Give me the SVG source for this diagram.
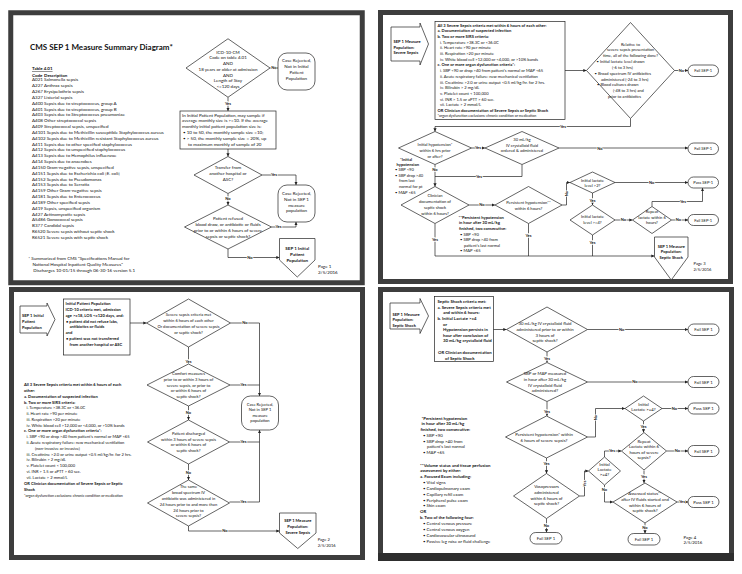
<svg xmlns="http://www.w3.org/2000/svg" width="742" height="574" viewBox="0 0 742 574">
<style>
text{font-family:Lato,"Liberation Sans",sans-serif;fill:#111}
.b{font-weight:bold}
.m{text-anchor:middle}
.p1{font-size:4.5px}
.p2{font-size:4.1px}
.p4{font-size:4.3px}
.lb{font-size:4px;font-weight:bold;text-anchor:middle;stroke:#fff;stroke-width:1.4px;paint-order:stroke}
.sh{fill:#fff;stroke:#222;stroke-width:.7}
.ln{fill:none;stroke:#222;stroke-width:.7;marker-end:url(#a)}
.l0{fill:none;stroke:#222;stroke-width:.7}
.fr{fill:#fff;stroke:#3d3d3d;stroke-width:5}
</style>
<defs>
<marker id="a" viewBox="0 0 6 6" refX="6" refY="3" markerWidth="3.2" markerHeight="3.2" markerUnits="userSpaceOnUse" orient="auto"><path d="M0,0L6,3L0,6z" fill="#222"/></marker>
</defs>
<rect width="742" height="574" fill="#fff"/>

<!-- ================= PAGE 1 ================= -->
<g id="page1">
<rect class="fr" x="10.75" y="12.75" width="351.5" height="270"/>
<text x="30" y="49.5" class="b" font-size="8">CMS SEP 1 Measure Summary Diagram*</text>
<g id="table401" class="p1" font-size="4.4">
<text x="32" y="70" class="b" text-decoration="underline">Table 4.01</text>
<text x="32" y="76.7" class="b">Code</text><text x="44" y="76.7" class="b">Description</text>
<text x="32" y="81.4">A021 Salmonella sepsis</text>
<text x="32" y="87.2">A227 Anthrax sepsis</text>
<text x="32" y="93.1">A267 Erysipelothrix sepsis</text>
<text x="32" y="98.9">A327 Listerial sepsis</text>
<text x="32" y="104.7">A400 Sepsis due to streptococcus, group A</text>
<text x="32" y="110.6">A401 Sepsis due to streptococcus, group B</text>
<text x="32" y="116.4">A403 Sepsis due to Streptococcus pneumoniae</text>
<text x="32" y="122.2">A408 Other streptococcal sepsis</text>
<text x="32" y="128">A409 Streptococcal sepsis, unspecified</text>
<text x="32" y="133.9">A4101 Sepsis due to Methicillin susceptible Staphylococcus aureus</text>
<text x="32" y="139.7">A4102 Sepsis due to Methicillin resistant Staphylococcus aureus</text>
<text x="32" y="145.5">A411 Sepsis due to other specified staphylococcus</text>
<text x="32" y="151.4">A412 Sepsis due to unspecified staphylococcus</text>
<text x="32" y="157.2">A413 Sepsis due to Hemophilus influenzae</text>
<text x="32" y="163">A414 Sepsis due to anaerobes</text>
<text x="32" y="168.9">A4150 Gram-negative sepsis, unspecified</text>
<text x="32" y="174.7">A4151 Sepsis due to Escherichia coli [E. coli]</text>
<text x="32" y="180.5">A4152 Sepsis due to Pseudomonas</text>
<text x="32" y="186.3">A4153 Sepsis due to Serratia</text>
<text x="32" y="192.2">A4159 Other Gram-negative sepsis</text>
<text x="32" y="198">A4181 Sepsis due to Enterococcus</text>
<text x="32" y="203.8">A4189 Other specified sepsis</text>
<text x="32" y="209.7">A419 Sepsis, unspecified organism</text>
<text x="32" y="215.5">A427 Actinomycotic sepsis</text>
<text x="32" y="221.3">A5486 Gonococcal sepsis</text>
<text x="32" y="227.2">B377 Candidal sepsis</text>
<text x="32" y="233">R6520 Severe sepsis without septic shock</text>
<text x="32" y="238.8">R6521 Severe sepsis with septic shock</text>
</g>
<g id="footnote1" class="p1" font-size="4.4">
<text x="28.3" y="260">* Summarized from CMS "Specifications Manual for</text>
<text x="32.5" y="266">National Hospital Inpatient Quality Measures"</text>
<text x="33.3" y="271.6">Discharges 10-01/15 through 06-30-16 version 5.1</text>
</g>
<g id="p1-connectors">
<path class="ln" d="M270,68H278"/>
<path class="ln" d="M228,97.25V111"/>
<path class="ln" d="M228,149V156.5"/>
<path class="ln" d="M262,175H296V185"/>
<path class="ln" d="M228,193.5V205"/>
<path class="ln" d="M271.5,227H296V222"/>
<path class="ln" d="M228,249V257.5H279.5"/>
<text class="lb" x="274" y="69.4">No</text>
<text class="lb" x="228" y="105">Yes</text>
<text class="lb" x="274" y="176.4">Yes</text>
<text class="lb" x="228" y="200">No</text>
<text class="lb" x="278.5" y="228.4">Yes</text>
<text class="lb" x="250" y="259">No</text>
</g>
<g id="p1-d-icd" class="p1 m">
<polygon class="sh" points="228,38.75 270,68 228,97.25 186,68"/>
<text x="228" y="53.6">ICD-10-CM</text>
<text x="228" y="59.35">Code on table 4.01</text>
<text x="228" y="65.1">AND</text>
<text x="228" y="70.85">18 years or older at admission</text>
<text x="228" y="76.6">AND</text>
<text x="228" y="82.35">Length of Stay</text>
<text x="228" y="88.1">&lt;=120 days</text>
</g>
<g id="p1-rej1" class="p1 m">
<rect class="sh" x="278" y="53" width="37" height="37" rx="9"/>
<text x="296.5" y="62.3">Case Rejected,</text>
<text x="296.5" y="68.3">Not in Initial</text>
<text x="296.5" y="74.3">Patient</text>
<text x="296.5" y="80">Population</text>
</g>
<g id="p1-sample" class="p1" font-size="4.4">
<rect class="sh" x="180" y="111" width="96" height="38"/>
<text x="182" y="116.5">In Initial Patient Population, may sample if</text>
<text x="182" y="122.3">average monthly size is &gt;=10. If the average</text>
<text x="182" y="128.1">monthly initial patient population size is:</text>
<text x="183" y="133.9">• 10 to 50, the monthly sample size =10;</text>
<text x="183" y="139.7">• &gt; 50, the monthly sample size = 20%, up</text>
<text x="188" y="145.5">to maximum monthly of sample of 20</text>
</g>
<g id="p1-d-transfer" class="p1 m">
<polygon class="sh" points="228,156.5 262,175 228,193.5 194,175"/>
<text x="228" y="169">Transfer from</text>
<text x="228" y="175">another hospital or</text>
<text x="228" y="181">ASC?</text>
</g>
<g id="p1-rej2" class="p1 m">
<rect class="sh" x="278" y="185" width="37" height="37" rx="9"/>
<text x="296.5" y="195">Case Rejected,</text>
<text x="296.5" y="201">Not in SEP 1</text>
<text x="296.5" y="206.6">measure</text>
<text x="296.5" y="212.3">population</text>
</g>
<g id="p1-d-refused" class="p1 m">
<polygon class="sh" points="228,205 271.5,227 228,249 184.5,227"/>
<text x="228" y="220">Patient refused</text>
<text x="228" y="226">blood draw, or antibiotic or fluids</text>
<text x="228" y="232">prior to or within 6 hours of severe</text>
<text x="228" y="238">sepsis or septic shock?</text>
</g>
<g id="p1-off" class="p1 m b">
<polygon class="sh" points="279.5,238.5 315,238.5 315,260 297.25,277 279.5,260"/>
<text x="297.25" y="250">SEP 1 Initial</text>
<text x="297.25" y="255.7">Patient</text>
<text x="297.25" y="261.5">Population</text>
</g>
<text x="318" y="268.3" class="p1">Page 1</text>
<text x="318" y="274.3" class="p1">2/5/2016</text>
</g>

<!-- ================= PAGE 2 ================= -->
<g id="page2">
<rect class="fr" x="11.5" y="289.5" width="351" height="268"/>
<g id="p2-in" class="p2 b">
<path class="sh" d="M20,306H47V303L55,319.5L47,336V333H20Z"/>
<text x="22" y="316.6">SEP 1 Initial</text>
<text x="22" y="322.6">Patient</text>
<text x="22" y="328.6">Population</text>
</g>
<g id="p2-ipp" class="p2 b">
<rect class="sh" x="63.5" y="299" width="66.5" height="56"/>
<text x="65.5" y="305">Initial Patient Population</text>
<text x="65.5" y="310.7">ICD-10 criteria met, admission</text>
<text x="65.5" y="316.6">age &gt;=18,  LOS &lt;=120 days, and:</text>
<text x="66" y="322.6">• patient did not refuse labs,</text>
<text x="69.5" y="328.3">antibiotics or fluids</text>
<text x="65.5" y="334.3">and</text>
<text x="66" y="340">• patient was not transferred</text>
<text x="69.5" y="346">from another hospital or ASC</text>
</g>
<g id="p2-criteria" class="p2">
<text x="24" y="385.8" class="b">All 3 Severe Sepsis criteria met within 6 hours of each</text>
<text x="24" y="391.5" class="b">other:</text>
<text x="24" y="397.5" class="b">a. Documentation of suspected infection</text>
<text x="24" y="403.5" class="b">b. Two or more SIRS criteria:</text>
<text x="26.5" y="408.8">i.  Temperature &gt;38.3C or &lt;36.0C</text>
<text x="26.5" y="414.5">ii. Heart rate &gt;90 per minute</text>
<text x="26.5" y="420.5">iii. Respiration &gt;20 per minute</text>
<text x="26.5" y="426.5">iv. White blood cell &gt;12,000 or &lt;4,000, or &gt;10% bands</text>
<text x="24" y="432.2" class="b">c. One or more organ dysfunction criteria*:</text>
<text x="26.5" y="438.2">i. SBP &lt;90 or drop &gt;40 from patient's normal or MAP &lt;65</text>
<text x="26.5" y="444.2">ii. Acute respiratory failure: new mechanical ventilation</text>
<text x="35" y="449.8">(non-invasive or invasive)</text>
<text x="26.5" y="455.5">iii. Creatinine &gt;2.0 or urine output &lt;0.5 ml/kg/hr. for 2 hrs.</text>
<text x="26.5" y="461.2">iv. Bilirubin &gt; 2 mg/dL</text>
<text x="26.5" y="467.2">v. Platelet count &lt; 100,000</text>
<text x="26.5" y="473.2">vi. INR &gt; 1.5 or aPTT &gt; 60 sec.</text>
<text x="26.5" y="479.2">vii. Lactate &gt; 2 mmol/L</text>
<text x="24" y="484.8" class="b">OR Clinician documentation of Severe Sepsis or Septic</text>
<text x="24" y="490.5" class="b">Shock</text>
<text x="24" y="496.5" font-size="3.6">*organ dysfunction exclusions: chronic condition or medication</text>
</g>
<g id="p2-connectors">
<path class="ln" d="M130,323H146.5"/>
<path class="ln" d="M230.5,323H259.5V396"/>
<path class="ln" d="M188.5,347V364"/>
<path class="l0" d="M230,385H259.5"/>
<path class="ln" d="M188.5,406V420"/>
<path class="l0" d="M229.5,442H259.5"/>
<path class="ln" d="M188.5,464V480"/>
<path class="ln" d="M229.5,502H259.5V430"/>
<path class="ln" d="M188.5,526V531H279.5"/>
<text class="lb" x="245" y="324.4">No</text>
<text class="lb" x="188.5" y="362.8">Yes</text>
<text class="lb" x="243.5" y="386.4">Yes</text>
<text class="lb" x="188.5" y="414.3">No</text>
<text class="lb" x="243.5" y="443.4">Yes</text>
<text class="lb" x="188.5" y="474.3">No</text>
<text class="lb" x="243.5" y="503.4">Yes</text>
<text class="lb" x="225" y="532.4">No</text>
</g>
<g id="p2-d-criteria" class="p2 m">
<polygon class="sh" points="188.5,299 230.5,323 188.5,347 146.5,323"/>
<text x="188.5" y="315.6">Severe sepsis criteria met</text>
<text x="188.5" y="321.6">within 6 hours of each other</text>
<text x="188.5" y="327.6">Or documentation of severe sepsis</text>
<text x="188.5" y="333.6">or septic shock?</text>
</g>
<g id="p2-rej" class="p2 m">
<rect class="sh" x="241.5" y="396" width="37" height="34" rx="9"/>
<text x="260" y="405.6">Case Rejected,</text>
<text x="260" y="411.2">Not in SEP 1</text>
<text x="260" y="416.8">measure</text>
<text x="260" y="422.4">population</text>
</g>
<g id="p2-d-comfort" class="p2 m">
<polygon class="sh" points="188.5,364 230,385 188.5,406 147,385"/>
<text x="188.5" y="375">Comfort measures</text>
<text x="188.5" y="380.8">prior to or within 3 hours of</text>
<text x="188.5" y="386.6">severe sepsis, or prior to</text>
<text x="188.5" y="392.3">or within 6 hours of</text>
<text x="188.5" y="398">septic shock?</text>
</g>
<g id="p2-d-discharged" class="p2 m">
<polygon class="sh" points="188.5,420 229.5,442 188.5,464 147.5,442"/>
<text x="188.5" y="435">Patient discharged</text>
<text x="188.5" y="440.7">within 3 hours of severe sepsis</text>
<text x="188.5" y="446.4">or within 6 hours of</text>
<text x="188.5" y="452.1">septic shock?</text>
</g>
<g id="p2-d-antibiotic" class="p2 m">
<polygon class="sh" points="188.5,480 229.5,503 188.5,526 147.5,503"/>
<text x="188.5" y="488.3">The same</text>
<text x="188.5" y="494.2">broad spectrum IV</text>
<text x="188.5" y="500">antibiotic was administered in</text>
<text x="188.5" y="505.7">24 hours prior to and more than</text>
<text x="188.5" y="511.5">24 hours prior to</text>
<text x="188.5" y="517.3">severe sepsis?</text>
</g>
<g id="p2-off" class="p2 m b">
<polygon class="sh" points="279.5,513 316,513 316,533 297.75,548.5 279.5,533"/>
<text x="297.75" y="522.3">SEP 1 Measure</text>
<text x="297.75" y="528.1">Population:</text>
<text x="297.75" y="533.9">Severe Sepsis</text>
</g>
<text x="317.7" y="541" class="p2">Page 2</text>
<text x="317.7" y="546.6" class="p2">2/5/2016</text>
</g>

<!-- ================= PAGE 3 ================= -->
<g id="page3">
<rect class="fr" x="380.5" y="12.5" width="350" height="269"/>
<g id="p3-in" class="p2 b">
<path class="sh" d="M391,27H420V23L428.5,44L420,65V61H391Z"/>
<text x="393.5" y="43">SEP 1 Measure</text>
<text x="393.5" y="48.5">Population:</text>
<text x="393.5" y="54">Severe Sepsis</text>
</g>
<g id="p3-criteria" class="p2">
<rect class="sh" x="435" y="21.5" width="130" height="98"/>
<text x="437.5" y="26.5" class="b">All 3 Severe Sepsis criteria met within 6 hours of each other:</text>
<text x="437.5" y="32.2" class="b">a. Documentation of suspected infection</text>
<text x="437.5" y="37.9" class="b">b. Two or more SIRS criteria:</text>
<text x="440" y="43.6">i.  Temperature &gt;38.3C or &lt;36.0C</text>
<text x="440" y="49.3">ii. Heart rate &gt;90 per minute</text>
<text x="440" y="55">iii. Respiration &gt;20 per minute</text>
<text x="440" y="60.7">iv. White blood cell &gt;12,000 or &lt;4,000, or &gt;10% bands</text>
<text x="437.5" y="66.4" class="b">c. One or more organ dysfunction criteria*:</text>
<text x="440" y="72.1">i. SBP &lt;90 or drop &gt;40 from patient's normal or MAP &lt;65</text>
<text x="440" y="77.8">ii. Acute respiratory failure: new mechanical ventilation</text>
<text x="440" y="83.5">iii. Creatinine &gt;2.0 or urine output &lt;0.5 ml/kg/hr. for 2 hrs.</text>
<text x="440" y="89.2">iv. Bilirubin &gt; 2 mg/dL</text>
<text x="440" y="94.9">v. Platelet count &lt; 100,000</text>
<text x="440" y="100.6">vi. INR &gt; 1.5 or aPTT &gt; 60 sec.</text>
<text x="440" y="106.3">vii. Lactate &gt; 2 mmol/L</text>
<text x="437.5" y="112" class="b">OR Clinician documentation of Severe Sepsis or Septic Shock</text>
<text x="437.5" y="117.2" font-size="3.6">*organ dysfunction exclusions: chronic condition or medication</text>
</g>
<g id="p3-connectors">
<path class="ln" d="M565,70.5H586.5"/>
<path class="ln" d="M674.5,70.5H688"/>
<path class="ln" d="M630.5,118.5V126.5H435V131.5"/>
<path class="ln" d="M471.5,148H485"/>
<path class="ln" d="M559,148H688"/>
<path class="l0" d="M522,164.5V176.5H435"/>
<path class="ln" d="M435,164.5V186.5"/>
<path class="ln" d="M469,205H495"/>
<path class="ln" d="M562,205H566.5V182.5H570"/>
<path class="ln" d="M615,182.5H688"/>
<path class="ln" d="M592.5,193V205"/>
<path class="ln" d="M615,220H632.5"/>
<path class="ln" d="M671.5,220H688"/>
<path class="ln" d="M652,206.5V201.5H702.5V188"/>
<path class="l0" d="M592.5,235V256"/>
<path class="l0" d="M528.5,223.5V256"/>
<path class="ln" d="M435,223.5V256H654.5"/>
<text class="lb" x="681.3" y="72">No</text>
<text class="lb" x="563" y="128">Yes</text>
<text class="lb" x="478" y="149.4">Yes</text>
<text class="lb" x="600" y="149.5">No</text>
<text class="lb" x="479" y="177.9">Yes</text>
<text class="lb" x="435" y="170.5">No</text>
<text class="lb" x="482" y="206.4">No</text>
<text class="lb" transform="translate(568,193.5) rotate(-90)">No</text>
<text class="lb" x="651.7" y="184">No</text>
<text class="lb" x="592.5" y="202">Yes</text>
<text class="lb" x="623.5" y="221.4">No</text>
<text class="lb" x="678.5" y="221.4">No</text>
<text class="lb" x="683" y="203">Yes</text>
<text class="lb" x="592.5" y="244.2">Yes</text>
<text class="lb" x="435" y="240.5">Yes</text>
<text class="lb" x="528.5" y="237.2">Yes</text>
</g>
<g id="p3-d-relative" class="p2 m">
<polygon class="sh" points="630.5,22.5 674.5,70.5 630.5,118.5 586.5,70.5"/>
<text x="630.5" y="45.5">Relative to</text>
<text x="630.5" y="51.2">severe sepsis presentation</text>
<text x="630.5" y="56.9">time, all of the following done?</text>
<g style="text-anchor:start">
<text x="596.5" y="63.2">• Initial lactate level drawn</text>
<text x="612" y="68.9">(-6 to 3 hrs)</text>
<text x="594.5" y="74.8">• Broad spectrum IV antibiotics</text>
<text x="601" y="80.5">administered (-24 to 3 hrs)</text>
<text x="597" y="86.4">• Blood cultures drawn</text>
<text x="613" y="92.2">(-48 to 3 hrs) and</text>
<text x="608" y="98.1">prior to antibiotics</text>
</g>
</g>
<g id="p3-fail1" class="p2 m">
<rect class="sh" x="688" y="65" width="30.5" height="11.5" rx="5.75"/>
<text x="703.25" y="72.3">Fail SEP-1</text>
</g>
<g id="p3-d-inithypo" class="p2 m">
<polygon class="sh" points="435,131.5 471.5,148 435,164.5 398.5,148"/>
<text x="435" y="146.3">Initial hypotension*</text>
<text x="435" y="151.9">within 6 hrs prior</text>
<text x="435" y="157.5">or after?</text>
</g>
<g id="p3-d-fluid" class="p2 m">
<polygon class="sh" points="522,131.5 559,148 522,164.5 485,148"/>
<text x="522" y="140.8">30 mL/kg</text>
<text x="522" y="146.6">IV crystalloid fluid</text>
<text x="522" y="152.4">ordered &amp; administered</text>
</g>
<g id="p3-fail2" class="p2 m">
<rect class="sh" x="688" y="143" width="30.5" height="11.5" rx="5.75"/>
<text x="703.25" y="150.3">Fail SEP-1</text>
</g>
<g id="p3-note1" class="p2">
<text x="400" y="160.5" class="b">*Initial</text>
<text x="396.5" y="165.8" class="b">hypotension</text>
<text x="395" y="171">• SBP &lt;90</text>
<text x="395" y="176.6">• SBP drop &gt;40</text>
<text x="399" y="182.3">from last</text>
<text x="399" y="188.1">normal for pt</text>
<text x="395" y="194">• MAP &lt;65</text>
</g>
<g id="p3-d-clinician" class="p2 m">
<polygon class="sh" points="435,186.5 469,205 435,223.5 401,205"/>
<text x="435" y="197.2">Clinician</text>
<text x="435" y="203.1">documentation of</text>
<text x="435" y="208.9">septic shock</text>
<text x="435" y="214.8">within 6 hours?</text>
</g>
<g id="p3-d-persist" class="p2 m">
<polygon class="sh" points="528.5,186.5 562,205 528.5,223.5 495,205"/>
<text x="528.5" y="204.2">Persistent hypotension**</text>
<text x="528.5" y="210.3">within 6 hours?</text>
</g>
<g id="p3-note2" class="p2">
<text x="458.5" y="218.8" class="b">**Persistent hypotension</text>
<text x="459" y="224.4" class="b">in hour after 30 mL/kg</text>
<text x="459" y="230" class="b">finished, two consecutive:</text>
<text x="460" y="235.6">• SBP &lt;90</text>
<text x="460" y="241.1">• SBP drop &gt;40 from</text>
<text x="464" y="246.7">patient's last normal</text>
<text x="460" y="252.3">• MAP &lt;65</text>
</g>
<g id="p3-d-lac2" class="p2 m">
<polygon class="sh" points="592.5,172 615,182.5 592.5,193 570,182.5"/>
<text x="592.5" y="181.5">Initial lactate</text>
<text x="592.5" y="187.2">level &gt;2?</text>
</g>
<g id="p3-pass" class="p2 m">
<rect class="sh" x="688" y="177" width="30.5" height="11" rx="5.5"/>
<text x="703.25" y="184">Pass SEP-1</text>
</g>
<g id="p3-d-lac4" class="p2 m">
<polygon class="sh" points="592.5,205 615,220 592.5,235 570,220"/>
<text x="592.5" y="218.3">Initial lactate</text>
<text x="592.5" y="224.2">level &gt;=4?</text>
</g>
<g id="p3-d-repeat" class="p2 m">
<polygon class="sh" points="652,206.5 671.5,220 652,233.5 632.5,220"/>
<text x="652" y="212.7">Repeat</text>
<text x="652" y="218.5">lactate  within 6</text>
<text x="652" y="224.3">hours?</text>
</g>
<g id="p3-fail3" class="p2 m">
<rect class="sh" x="688" y="214.5" width="30.5" height="11" rx="5.5"/>
<text x="703.25" y="221.5">Fail SEP-1</text>
</g>
<g id="p3-off" class="p2 m b">
<polygon class="sh" points="654.5,237 688,237 688,257 671.25,280 654.5,257"/>
<text x="671.25" y="247.5">SEP 1 Measure</text>
<text x="671.25" y="253.2">Population:</text>
<text x="671.25" y="258.9">Septic Shock</text>
</g>
<text x="693.5" y="265" class="p2">Page 3</text>
<text x="693.5" y="271" class="p2">2/5/2016</text>
</g>

<!-- ================= PAGE 4 ================= -->
<g id="page4">
<rect class="fr" x="380.5" y="289.5" width="351" height="267"/>
<rect x="378" y="553" width="356" height="8" fill="#2e2e2e"/>
<g id="p4-in" class="p2 b">
<path class="sh" d="M390,303H420V298.5L428.5,316L420,333.5V329H390Z"/>
<text x="392.5" y="315.5">SEP 1 Measure</text>
<text x="392.5" y="321">Population:</text>
<text x="392.5" y="326.5">Septic Shock</text>
</g>
<g id="p4-criteria" class="p4 b">
<rect class="sh" x="434.5" y="296.5" width="59" height="65"/>
<text x="437.5" y="303.2">Septic Shock criteria met:</text>
<text x="437.5" y="308.8">a. Severe Sepsis criteria met</text>
<text x="443" y="314.3">and within 6 hours:</text>
<text x="437.5" y="319.9">b. Initial Lactate &gt;=4</text>
<text x="443" y="325.5">or</text>
<text x="443" y="331">Hypotension persists in</text>
<text x="443" y="336.6">hour after conclusion of</text>
<text x="443" y="342.2">30 mL/kg crystalloid fluid</text>
<text x="438" y="354.2">OR Clinician documentation</text>
<text x="445" y="359.8">of Septic Shock</text>
</g>
<g id="p4-notes" class="p4">
<text x="421.5" y="419.8" class="b">*Persistent hypotension</text>
<text x="421.5" y="425" class="b">in hour after 30 mL/kg</text>
<text x="420.5" y="430.8" class="b">finished, two consecutive:</text>
<text x="423" y="437.2">• SBP &lt;90</text>
<text x="423" y="442.6">• SBP drop &gt;40 from</text>
<text x="427" y="448.3">patient's last normal</text>
<text x="423" y="454.2">• MAP &lt;65</text>
<text x="420" y="466.6" class="b">**Volume status and tissue perfusion</text>
<text x="420" y="472.3" class="b">assessment by either:</text>
<text x="420" y="478.2" class="b">a. Focused Exam including:</text>
<text x="423" y="483.9">• Vital signs</text>
<text x="423" y="489.8">• Cardiopulmonary exam</text>
<text x="423" y="495.7">• Capillary refill exam</text>
<text x="423" y="501.5">• Peripheral pulse exam</text>
<text x="423" y="507.4">• Skin exam</text>
<text x="420" y="513.2" class="b">OR</text>
<text x="420" y="519.2" class="b">b. Two of the following four:</text>
<text x="423" y="524.9">• Central venous pressure</text>
<text x="423" y="530.8">• Central venous oxygen</text>
<text x="423" y="536.6">• Cardiovascular ultrasound</text>
<text x="423" y="542.5">• Passive leg raise or fluid challenge</text>
</g>
<g id="p4-connectors">
<path class="ln" d="M493.5,329.5H506.5"/>
<path class="ln" d="M587.5,329.5H688"/>
<path class="ln" d="M547,352V362.5"/>
<path class="ln" d="M587.5,382H688"/>
<path class="ln" d="M547,401.5V416"/>
<path class="ln" d="M587.5,437H595.5V408.5H625"/>
<path class="ln" d="M662,408.5H688"/>
<path class="ln" d="M643.5,421V432.5"/>
<path class="ln" d="M666.5,451H688"/>
<path class="ln" d="M604.5,457V451H621.5"/>
<path class="ln" d="M604.5,485V502H613"/>
<path class="ln" d="M546.5,458V473.5"/>
<path class="ln" d="M579.5,496H584.5V471H588.5"/>
<path class="ln" d="M546.5,518.5V532.5"/>
<path class="ln" d="M644,470.5V483"/>
<path class="ln" d="M677,502H688"/>
<path class="ln" d="M645,523V533.5"/>
<text class="lb" x="621.7" y="331">No</text>
<text class="lb" x="547" y="359.8">Yes</text>
<text class="lb" x="635" y="383.4">No</text>
<text class="lb" x="547" y="413.2">Yes</text>
<text class="lb" transform="translate(597,417.5) rotate(-90)">No</text>
<text class="lb" x="674.5" y="410">No</text>
<text class="lb" x="643.5" y="428.2">Yes</text>
<text class="lb" x="677.5" y="452.4">No</text>
<text class="lb" x="612" y="452.4">Yes</text>
<text class="lb" x="604.5" y="491">No</text>
<text class="lb" x="546.5" y="464.9">Yes</text>
<text class="lb" transform="translate(586,483.5) rotate(-90)">Yes</text>
<text class="lb" x="546.5" y="526.5">No</text>
<text class="lb" x="644" y="477.6">Yes</text>
<text class="lb" x="682" y="503.4">Yes</text>
<text class="lb" x="645" y="528.6">No</text>
</g>
<g id="p4-d-fluid" class="p4 m">
<polygon class="sh" points="547,307 587.5,329.5 547,352 506.5,329.5"/>
<text x="545" y="324.8">30 mL/kg IV crystalloid fluid</text>
<text x="545" y="330.7">administered prior to or within</text>
<text x="545" y="336.5">3 hours of</text>
<text x="545" y="342.2">septic shock?</text>
</g>
<g id="p4-fail1" class="p4 m">
<rect class="sh" x="688" y="324" width="31" height="11.5" rx="5.75"/>
<text x="703.5" y="331.3">Fail SEP 1</text>
</g>
<g id="p4-d-measured" class="p4 m">
<polygon class="sh" points="547,362.5 587.5,382 547,401.5 506.5,382"/>
<text x="545" y="375">SBP or MAP measured</text>
<text x="545" y="380.8">in hour after 30 mL/kg</text>
<text x="545" y="386.6">IV crystalloid fluid</text>
<text x="545" y="392.4">administered?</text>
</g>
<g id="p4-fail2" class="p4 m">
<rect class="sh" x="688" y="376.5" width="31" height="11" rx="5.5"/>
<text x="703.5" y="383.6">Fail SEP 1</text>
</g>
<g id="p4-d-persist" class="p4 m">
<polygon class="sh" points="546.5,416 587.5,437 546.5,458 505.5,437"/>
<text x="544" y="436.4">Persistent hypotension* within</text>
<text x="544" y="442.4">6 hours of severe sepsis?</text>
</g>
<g id="p4-d-lac4a" class="p4 m">
<polygon class="sh" points="643.5,396 662,408.5 643.5,421 625,408.5"/>
<text x="643.5" y="406">Initial</text>
<text x="643.5" y="411.2">Lactate &gt;=4?</text>
</g>
<g id="p4-pass1" class="p4 m">
<rect class="sh" x="688" y="403" width="31" height="11" rx="5.5"/>
<text x="703.5" y="410.1">Pass SEP 1</text>
</g>
<g id="p4-d-repeat" class="p4 m">
<polygon class="sh" points="644,432.5 666.5,451 644,470 621.5,451"/>
<text x="644" y="443.3">Repeat</text>
<text x="644" y="448.4">Lactate within 6</text>
<text x="644" y="453.5">hours of severe</text>
<text x="644" y="458.6">sepsis?</text>
</g>
<g id="p4-fail3" class="p4 m">
<rect class="sh" x="688" y="445.5" width="31" height="11" rx="5.5"/>
<text x="703.5" y="452.6">Fail SEP 1</text>
</g>
<g id="p4-d-lac4b" class="p4 m">
<polygon class="sh" points="604.5,457 620.5,471 604.5,485 588.5,471"/>
<text x="604.5" y="466">Initial</text>
<text x="604.5" y="471.2">Lactate</text>
<text x="604.5" y="476.4">&gt;=4?</text>
</g>
<g id="p4-d-vaso" class="p4 m">
<polygon class="sh" points="546.5,473.5 579.5,496 546.5,518.5 513.5,496"/>
<text x="546.5" y="488.4">Vasopressors</text>
<text x="546.5" y="494">administered</text>
<text x="546.5" y="499.6">within 6 hours of</text>
<text x="546.5" y="505.2">septic shock?</text>
</g>
<g id="p4-fail4" class="p4 m">
<rect class="sh" x="530" y="532.5" width="32" height="11.5" rx="5.75"/>
<text x="546" y="539.9">Fail SEP 1</text>
</g>
<g id="p4-d-assessed" class="p4 m">
<polygon class="sh" points="645,483 677,502 645,523 613,502"/>
<text x="645" y="495">Assessed status**</text>
<text x="645" y="500.7">after IV fluids started and</text>
<text x="645" y="506.5">within 6 hours of</text>
<text x="645" y="512.2">septic shock?</text>
</g>
<g id="p4-pass2" class="p4 m">
<rect class="sh" x="688" y="496.5" width="31" height="11" rx="5.5"/>
<text x="703.5" y="503.6">Pass SEP 1</text>
</g>
<g id="p4-fail5" class="p4 m">
<rect class="sh" x="628" y="533.5" width="32" height="11.5" rx="5.75"/>
<text x="644" y="540.9">Fail SEP 1</text>
</g>
<text x="683.5" y="538.8" class="p4">Page 4</text>
<text x="683.5" y="544.3" class="p4">2/5/2016</text>
</g>
</svg>
